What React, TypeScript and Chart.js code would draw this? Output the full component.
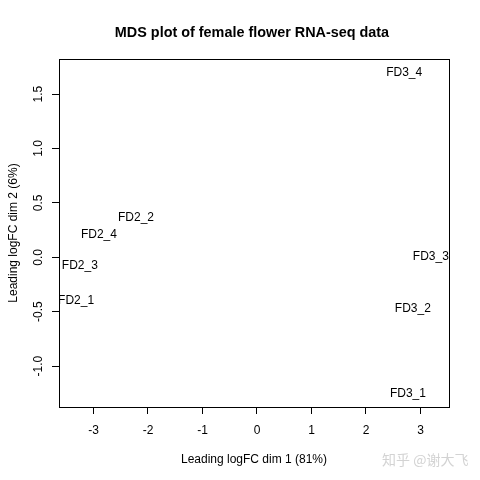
import React, { useEffect, useRef } from "react";
import { Chart, registerables } from "chart.js";

Chart.register(...registerables);

const sampleLabels = ["FD2_1", "FD2_2", "FD2_3", "FD2_4", "FD3_1", "FD3_2", "FD3_3", "FD3_4"];
const dim1 = [-3.32, -2.22, -3.25, -2.9, 2.77, 2.86, 3.19, 2.7];
const dim2 = [-0.4, 0.36, -0.08, 0.21, -1.25, -0.47, 0.01, 1.7];
const xTicks = [-3, -2, -1, 0, 1, 2, 3];
const yTicks = [-1.0, -0.5, 0.0, 0.5, 1.0, 1.5];
const titleText = "MDS plot of female flower RNA-seq data";
const xTitle = "Leading logFC dim 1 (81%)";
const yTitle = "Leading logFC dim 2 (6%)";
const watermark = "知乎 @谢大飞";

const FONT = '"Liberation Sans", Arial, sans-serif';

const labelPlugin = {
  id: "textLabels",
  afterDatasetsDraw(chart: any) {
    const { ctx, chartArea } = chart;
    const meta = chart.getDatasetMeta(0);
    ctx.save();
    ctx.beginPath();
    ctx.rect(chartArea.left, chartArea.top, chartArea.right - chartArea.left, chartArea.bottom - chartArea.top);
    ctx.clip();
    ctx.font = `12px ${FONT}`;
    ctx.fillStyle = "#000";
    ctx.textAlign = "center";
    ctx.textBaseline = "middle";
    meta.data.forEach((pt: any, i: number) => {
      ctx.fillText(sampleLabels[i], pt.x, pt.y);
    });
    ctx.restore();
    // plot frame
    ctx.save();
    ctx.strokeStyle = "#000";
    ctx.lineWidth = 1;
    const l = Math.round(chartArea.left) + 0.5;
    const t = Math.round(chartArea.top) + 0.5;
    const r = Math.round(chartArea.right) + 0.5;
    const b = Math.round(chartArea.bottom) + 0.5;
    ctx.strokeRect(l, t, r - l, b - t);
    ctx.restore();
    // main title, centred over the plot region
    ctx.save();
    ctx.font = `bold 14.4px ${FONT}`;
    ctx.fillStyle = "#000";
    ctx.textAlign = "center";
    ctx.textBaseline = "middle";
    ctx.fillText(titleText, (chartArea.left + chartArea.right) / 2 - 2, 33);
    ctx.restore();
    // watermark
    ctx.save();
    ctx.font = `14px "Noto Sans CJK SC", sans-serif`;
    ctx.fillStyle = "rgba(200,200,200,0.8)";
    ctx.textAlign = "left";
    ctx.textBaseline = "middle";
    ctx.fillText(watermark, 382, 460);
    ctx.restore();
  },
};

export default function App() {
  const ref = useRef<HTMLCanvasElement | null>(null);
  useEffect(() => {
    document.body.style.margin = "0";
    if (!ref.current) return;
    const chart = new Chart(ref.current, {
      type: "scatter",
      data: {
        datasets: [
          {
            data: dim1.map((x, i) => ({ x, y: dim2[i] })),
            pointRadius: 0,
            pointHoverRadius: 0,
          },
        ],
      },
      options: {
        responsive: false,
        animation: false,
        events: [],
        layout: { padding: { left: 0, right: 31, top: 59, bottom: 0 } },
        plugins: {
          legend: { display: false },
          tooltip: { enabled: false },
          title: { display: false },
        },
        scales: {
          x: {
            type: "linear",
            min: -3.633,
            max: 3.523,
            afterBuildTicks: (s: any) => {
              s.ticks = xTicks.map((v) => ({ value: v }));
            },
            afterFit: (s: any) => {
              s.height = 73;
            },
            ticks: {
              color: "#000",
              font: { family: FONT, size: 12 },
              padding: 9,
              maxRotation: 0,
              callback: (v: any) => String(v),
            },
            grid: { drawOnChartArea: false, drawTicks: true, tickLength: 7, color: "#000" },
            border: { display: false },
            title: {
              display: true,
              text: xTitle,
              color: "#000",
              font: { family: FONT, size: 12 },
              padding: { top: 0, bottom: 13.5 },
            },
          },
          y: {
            type: "linear",
            min: -1.376,
            max: 1.823,
            afterBuildTicks: (s: any) => {
              s.ticks = yTicks.map((v) => ({ value: v }));
            },
            afterFit: (s: any) => {
              s.width = 59;
            },
            ticks: {
              color: "#000",
              font: { family: FONT, size: 12 },
              padding: 3,
              minRotation: 90,
              maxRotation: 90,
              crossAlign: "center",
              callback: (v: any) => Number(v).toFixed(1),
            },
            grid: { drawOnChartArea: false, drawTicks: true, tickLength: 7, color: "#000" },
            border: { display: false },
            title: {
              display: true,
              text: yTitle,
              color: "#000",
              font: { family: FONT, size: 12 },
              padding: { top: 6, bottom: 0 },
            },
          },
        },
      },
      plugins: [labelPlugin],
    } as any);
    return () => chart.destroy();
  }, []);
  return (
    <div style={{ position: "absolute", left: 0, top: 0, width: 480, height: 480, background: "#fff" }}>
      <canvas ref={ref} width={480} height={480} />
    </div>
  );
}
